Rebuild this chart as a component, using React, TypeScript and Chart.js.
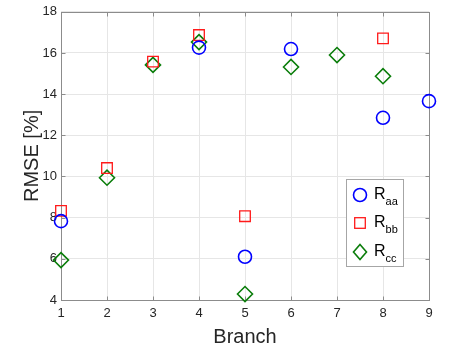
import React, { useEffect, useRef } from 'react';
import { Chart, registerables } from 'chart.js';

Chart.register(...registerables);

const branchAA = [1, 4, 5, 6, 8, 9];
const rmseAA = [7.83, 16.26, 6.1, 16.19, 12.85, 13.66];
const branchBB = [1, 2, 3, 4, 5, 8];
const rmseBB = [8.33, 10.41, 15.58, 16.87, 8.07, 16.71];
const branchCC = [1, 2, 3, 4, 5, 6, 7, 8];
const rmseCC = [5.94, 9.94, 15.42, 16.53, 4.29, 15.32, 15.9, 14.87];
const xTicks = [1, 2, 3, 4, 5, 6, 7, 8, 9];
const yTicks = [4, 6, 8, 10, 12, 14, 16, 18];
const legendMain = ['R', 'R', 'R'];
const legendSubs = ['aa', 'bb', 'cc'];
const xTitle = 'Branch';
const yTitle = 'RMSE [%]';

const BLUE = '#0000ff';
const RED = '#ff1a1a';
const GREEN = '#0a7d0a';
const TEXT = '#262626';
const FONT = '"Liberation Sans", Arial, sans-serif';

const toPts = (xs: number[], ys: number[]) => xs.map((x, i) => ({ x, y: ys[i] }));

const framePlugin = {
  id: 'frame',
  beforeDatasetsDraw(chart: any) {
    const { ctx, chartArea: a, scales } = chart;
    ctx.save();
    ctx.strokeStyle = '#8c8c8c';
    ctx.lineWidth = 1;
    const L = Math.round(a.left) + 0.5, R = Math.round(a.right) + 0.5;
    const T = Math.round(a.top) + 0.5, B = Math.round(a.bottom) + 0.5;
    ctx.strokeRect(L, T, R - L, B - T);
    ctx.beginPath();
    for (const v of xTicks) {
      const px = Math.round(scales.x.getPixelForValue(v)) + 0.5;
      ctx.moveTo(px, B); ctx.lineTo(px, B - 4);
      ctx.moveTo(px, T); ctx.lineTo(px, T + 4);
    }
    for (const v of yTicks) {
      const py = Math.round(scales.y.getPixelForValue(v)) + 0.5;
      ctx.moveTo(L, py); ctx.lineTo(L + 4, py);
      ctx.moveTo(R, py); ctx.lineTo(R - 4, py);
    }
    ctx.stroke();
    ctx.restore();
  },
  afterDraw(chart: any) {
    const { ctx, chartArea: a } = chart;
    ctx.save();
    ctx.fillStyle = TEXT;
    ctx.font = `20px ${FONT}`;
    ctx.textAlign = 'center';
    ctx.textBaseline = 'alphabetic';
    ctx.fillText(xTitle, (a.left + a.right) / 2, 343);
    ctx.save();
    ctx.translate(38, (a.top + a.bottom) / 2);
    ctx.rotate(-Math.PI / 2);
    ctx.fillText(yTitle, 0, 0);
    ctx.restore();

    // legend
    const bx = 346.5, by = 179.5, bw = 57, bh = 87;
    ctx.fillStyle = '#ffffff';
    ctx.fillRect(bx, by, bw, bh);
    ctx.strokeStyle = '#a6a6a6';
    ctx.lineWidth = 1;
    ctx.strokeRect(bx, by, bw, bh);
    const rows = [195, 223, 252];
    const mx = 360;
    ctx.lineWidth = 1.6;
    // circle
    ctx.strokeStyle = BLUE;
    ctx.beginPath(); ctx.arc(mx, rows[0], 6.5, 0, Math.PI * 2); ctx.stroke();
    // square
    ctx.strokeStyle = RED;
    ctx.lineWidth = 1.3;
    ctx.strokeRect(mx - 5.3, rows[1] - 5.3, 10.6, 10.6);
    // diamond
    ctx.strokeStyle = GREEN;
    ctx.lineWidth = 1.6;
    ctx.beginPath();
    ctx.moveTo(mx, rows[2] - 7.5); ctx.lineTo(mx + 6.5, rows[2]);
    ctx.lineTo(mx, rows[2] + 7.5); ctx.lineTo(mx - 6.5, rows[2]);
    ctx.closePath(); ctx.stroke();

    ctx.fillStyle = '#000000';
    ctx.textAlign = 'left';
    rows.forEach((ry, i) => {
      ctx.font = `16px ${FONT}`;
      ctx.fillText(legendMain[i], 374, ry + 3.5);
      const w = ctx.measureText(legendMain[i]).width;
      ctx.font = `11px ${FONT}`;
      ctx.fillText(legendSubs[i], 374 + w, ry + 10);
    });
    ctx.restore();
  },
};

export default function App() {
  const ref = useRef<HTMLCanvasElement>(null);
  useEffect(() => {
    document.body.style.margin = '0';
    const chart = new Chart(ref.current!, {
      type: 'scatter',
      data: {
        datasets: [
          {
            label: 'Raa', data: toPts(branchAA, rmseAA), pointStyle: 'circle',
            pointRadius: 6.5, borderColor: BLUE, backgroundColor: 'rgba(0,0,0,0)', borderWidth: 1.6, clip: false,
          } as any,
          {
            label: 'Rbb', data: toPts(branchBB, rmseBB), pointStyle: 'rect',
            pointRadius: 7.5, borderColor: RED, backgroundColor: 'rgba(0,0,0,0)', borderWidth: 1.3, clip: false,
          } as any,
          {
            label: 'Rcc', data: toPts(branchCC, rmseCC), pointStyle: 'rectRot',
            pointRadius: 7.5, borderColor: GREEN, backgroundColor: 'rgba(0,0,0,0)', borderWidth: 1.6, clip: false,
          } as any,
        ],
      },
      options: {
        responsive: false,
        animation: false,
        layout: { padding: { top: 11, right: 45, left: 0, bottom: 0 } },
        plugins: { legend: { display: false }, tooltip: { enabled: false } },
        scales: {
          x: {
            type: 'linear', min: 1, max: 9,
            afterBuildTicks: (axis: any) => { axis.ticks = xTicks.map((v) => ({ value: v })); },
            afterFit: (s: any) => { s.height = 55; },
            grid: { color: '#e6e6e6', drawTicks: false },
            border: { display: false },
            ticks: { padding: 6, color: TEXT, font: { family: FONT, size: 13 } },
          },
          y: {
            type: 'linear', min: 4, max: 18,
            afterBuildTicks: (axis: any) => { axis.ticks = yTicks.map((v) => ({ value: v })); },
            afterFit: (s: any) => { s.width = 61; },
            grid: { color: '#e6e6e6', drawTicks: false },
            border: { display: false },
            ticks: { padding: 4, color: TEXT, font: { family: FONT, size: 13 } },
          },
        },
      } as any,
      plugins: [framePlugin],
    });
    return () => chart.destroy();
  }, []);
  return <canvas ref={ref} width={474} height={355} style={{ display: 'block' }} />;
}
